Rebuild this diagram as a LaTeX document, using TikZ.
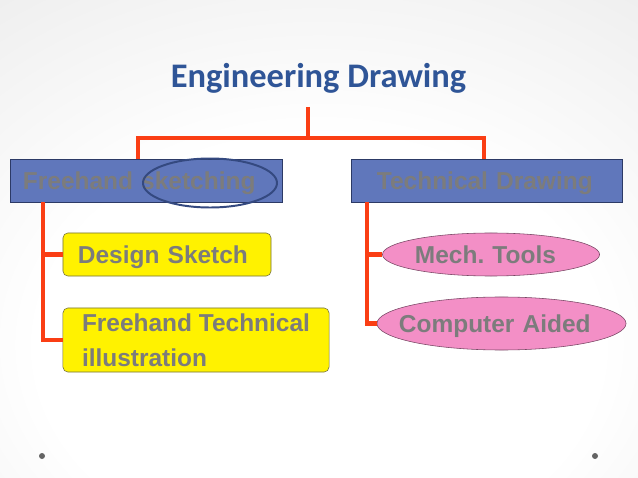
\documentclass[tikz,border=0pt]{standalone}
\usepackage{fontspec}
\setmainfont{Liberation Sans}
\newfontfamily\titlefont{Carlito}
\usetikzlibrary{calc}
\usetikzlibrary{shapes.geometric}
\frenchspacing
\definecolor{titleblue}{RGB}{47,85,151}
\definecolor{linered}{RGB}{250,62,20}
\definecolor{boxblue}{RGB}{96,119,187}
\definecolor{boxedge}{RGB}{44,58,102}
\definecolor{labelgray}{RGB}{124,124,124}
\definecolor{yellowedge}{RGB}{115,112,60}
\definecolor{pinkfill}{RGB}{243,143,198}
\definecolor{pinkedge}{RGB}{120,70,100}
\definecolor{ringblue}{RGB}{52,73,128}
\definecolor{dotgray}{RGB}{100,100,100}
\pgfdeclareradialshading{slidebg}{\pgfpoint{0bp}{-15bp}}{color(0bp)=(white); color(22bp)=(white); color(50bp)=(black!9); color(90bp)=(black!20)}

\begin{document}
\begin{tikzpicture}[x=0.025cm, y=-0.025cm]
            \tikzset{branch/.style={line width=2.85pt, linered},
                     maintitle/.style={anchor=base, text=titleblue, font=\titlefont\bfseries\fontsize{24.5}{28}\selectfont},
                     boxtext/.style={text=labelgray, inner ysep=0pt, font=\bfseries\fontsize{17.4}{24.9}\selectfont},
                     head/.style={boxtext, rectangle, draw=boxedge, fill=boxblue, minimum height=1.075cm, text depth=0pt, align=left},
                     leaf/.style={boxtext, rectangle, rounded corners=3.5pt, draw=yellowedge, fill=yellow, align=left},
                     tool/.style={boxtext, ellipse, draw=pinkedge, fill=pinkfill, inner xsep=-1cm, text depth=0pt, align=left}}
            \shade[shading=slidebg] (0, 0) rectangle (638, 478);
            \useasboundingbox (0, 0) rectangle (638, 478);
            \node[maintitle] (title) at (318.5, 88) {Engineering Drawing};
            \node[head, text width=6.15cm, inner xsep=0.325cm] (free) at (146, 180.5) {Freehand sketching};
            \node[head, text width=5.475cm, inner xsep=0.65cm] (tech) at (486.5, 180.5) {Technical Drawing};
            \node[leaf, text width=4.45cm, inner xsep=0.375cm, minimum height=1.075cm, text depth=0pt] (design) at (167, 254.5) {Design Sketch};
            \node[leaf, inner xsep=0pt, minimum width=6.65cm, minimum height=1.6cm] (fti) at (196, 340) {Freehand Technical\\illustration};
            \node[tool, text width=3.8cm, minimum width=5.425cm, minimum height=1.075cm] (mech) at (491, 254.5) {Mech. Tools};
            \node[tool, text width=5.125cm, minimum width=6.225cm, minimum height=1.325cm] (cad) at (501.5, 323.5) {Computer Aided};
            \coordinate (root) at (308, 107);
            \coordinate (split) at (308, 138);
            \draw[branch] (root) -- (split);
            \draw[branch] ($(free.north)+(-8, 0)$) |- (split) -| ($(tech.north)+(-2.5, 0)$);
            \draw[branch] ($(free.south west)+(33, 0)$) |- (design.west);
            \draw[branch] ($(free.south west)+(33, 0)$) |- (fti.west);
            \draw[branch] ($(tech.south west)+(16, 0)$) |- (mech.west);
            \draw[branch] ($(tech.south west)+(16, 0)$) |- (cad.west);
            \draw[ringblue, line width=1.4pt] (210, 183) ellipse [x radius=67, y radius=24.5];
            \fill[dotgray] (42, 456) circle [radius=3];
            \fill[dotgray] (595, 456) circle [radius=3];
        \end{tikzpicture}
\end{document}
